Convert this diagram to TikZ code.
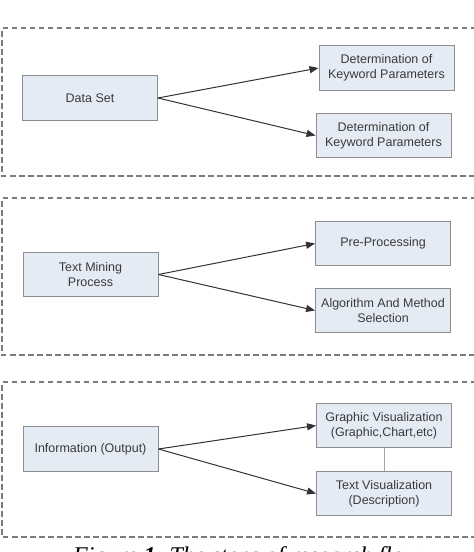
\documentclass[tikz,border=0pt]{standalone}
\usepackage{fontspec}
\setmainfont{Liberation Serif}
\setsansfont{Liberation Sans}
\usetikzlibrary{arrows.meta}
\definecolor{boxfill}{HTML}{E5EBF5}
\definecolor{boxline}{HTML}{8E8E8E}
\definecolor{panelline}{HTML}{7C7C7C}
\definecolor{txt}{HTML}{3A3A3A}
\definecolor{arr}{HTML}{333333}
\tikzset{
  panel/.style={draw=panelline, line width=1.1pt, dash pattern=on 5.5pt off 3.5pt},
  stepbox/.style={draw=boxline, fill=boxfill, line width=0.9pt, minimum width=135pt, minimum height=44.5pt,
    align=center, text=txt, inner sep=0pt, font=\sffamily\fontsize{12.5}{15}\selectfont},
  flow/.style={draw=arr, line width=1pt, -{Triangle[length=9pt,width=7pt]}},
  link/.style={draw=boxline!80, line width=0.8pt}
}
\begin{document}
\begin{tikzpicture}[x=1pt,y=-1pt]
\clip (0,0) rectangle (474,552);
\fill[white] (0,0) rectangle (474,552);
% panels
\draw[panel] (476,28) -- (2,28) -- (2,176) -- (476,176);
\draw[panel] (476,198) -- (2,198) -- (2,355) -- (476,355);
\draw[panel] (476,382) -- (2,382) -- (2,537) -- (476,537);
% panel 1
\node[stepbox] (ds) at (90,98) {Data Set};
\node[stepbox] (k1) at (386.5,68) {Determination of\\Keyword Parameters};
\node[stepbox] (k2) at (383.5,135.5) {Determination of\\Keyword Parameters};
\draw[flow] (ds.east) -- (k1.west);
\draw[flow] (ds.east) -- (k2.west);
% panel 2
\node[stepbox] (tm) at (90.5,274.5) {Text Mining\\Process};
\node[stepbox] (pp) at (383,243.5) {Pre-Processing};
\node[stepbox] (am) at (383,310.5) {Algorithm And Method\\Selection};
\draw[flow] (tm.east) -- (pp.west);
\draw[flow] (tm.east) -- (am.west);
% panel 3
\node[stepbox] (io) at (90.5,449) {Information (Output)};
\node[stepbox] (gv) at (384,425.5) {Graphic Visualization\\(Graphic,Chart,etc)};
\node[stepbox] (tv) at (384,493.5) {Text Visualization\\(Description)};
\draw[flow] (io.east) -- (gv.west);
\draw[flow] (io.east) -- (tv.west);
\draw[link] (gv.south) -- (tv.north);
% caption (cut off by the frame, as in the reference)
\node[anchor=base west, inner sep=0pt, font=\fontsize{24}{28}\selectfont] (cap) at (73,563)
  {\textit{Figure \textbf{1.} The steps of research flow}};
\end{tikzpicture}
\end{document}
